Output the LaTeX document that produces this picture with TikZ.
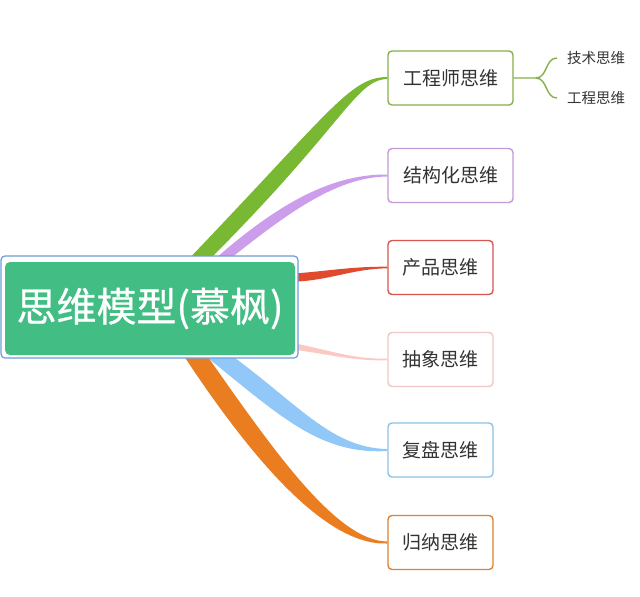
\documentclass[tikz,border=0pt]{standalone}
\usepackage{fontspec}
\setmainfont{Noto Sans CJK SC}
\newfontfamily\rootfont[FakeBold=0.6]{Noto Sans CJK SC}
\usetikzlibrary{calc}
\definecolor{txt}{HTML}{333333}
\definecolor{cgreen}{HTML}{79B833}
\definecolor{bgreen}{HTML}{86B04A}
\definecolor{cpurple}{HTML}{CC9DEB}
\definecolor{bpurple}{HTML}{C29BD9}
\definecolor{cred}{HTML}{E04A2F}
\definecolor{bred}{HTML}{D9534F}
\definecolor{cpink}{HTML}{FBC8C4}
\definecolor{bpink}{HTML}{F2C6C6}
\definecolor{cblue}{HTML}{92C8F8}
\definecolor{bblue}{HTML}{8CC3E6}
\definecolor{corange}{HTML}{E97D1F}
\definecolor{borange}{HTML}{E0822C}
\definecolor{rootgreen}{HTML}{42BE85}
\definecolor{rootframe}{HTML}{6A9BE0}
\tikzset{
  childbox/.style={draw, line width=1.4pt, rounded corners=4pt, fill=white,
    minimum height=54pt, inner sep=0pt, text=txt,
    font=\fontsize{19}{23}\selectfont},
  gchild/.style={anchor=west, inner xsep=10pt, inner ysep=0pt, text=txt,
    font=\fontsize{14.5}{17}\selectfont},
}
\begin{document}
\begin{tikzpicture}[x=1pt,y=-1pt]
\useasboundingbox (0,0) rectangle (640,597);
% child nodes
\node[childbox, draw=bgreen, minimum width=125pt] (c1) at (450.5,78) {工程师思维};
\node[childbox, draw=bpurple, minimum width=125pt] (c2) at (450.5,175.5) {结构化思维};
\node[childbox, draw=bred, minimum width=105pt] (c3) at (440.5,267.5) {产品思维};
\node[childbox, draw=bpink, minimum width=105pt] (c4) at (440.5,359.5) {抽象思维};
\node[childbox, draw=bblue, minimum width=105pt] (c5) at (440.5,450) {复盘思维};
\node[childbox, draw=borange, minimum width=105pt] (c6) at (440.5,542.5) {归纳思维};
% grandchildren
\node[gchild] (g1) at (557,58) {技术思维};
\node[gchild] (g2) at (557,98) {工程思维};
\coordinate (fork) at ($(c1.east)+(22,0)$);
\draw[bgreen, line width=1.4pt] (c1.east) -- (fork)
  .. controls ($(fork)+(12,0)$) and ($(g1.west)+(-12,0)$) .. (g1.west);
\draw[bgreen, line width=1.4pt] (fork)
  .. controls ($(fork)+(12,0)$) and ($(g2.west)+(-12,0)$) .. (g2.west);
\coordinate (rootc) at (150,308.5);
% tapered branches
\fill[cgreen] (182,266) .. controls (330,112) and (350,77) .. ($(c1.west)+(0,-1)$)
  -- ($(c1.west)+(0,1)$) .. controls (355,80) and (345,125) .. (203,266) -- cycle;
\fill[cpurple] (207,266) .. controls (275,205) and (330,174) .. ($(c2.west)+(0,-1)$)
  -- ($(c2.west)+(0,1)$) .. controls (335,177) and (285,215) .. (221,266) -- cycle;
\fill[cred] (288,274) .. controls (330,271) and (350,266.5) .. ($(c3.west)+(0,-0.8)$)
  -- ($(c3.west)+(0,0.8)$) .. controls (350,269) and (330,281) .. (288,282) -- cycle;
\fill[cpink] (288,342) .. controls (330,350) and (350,359) .. ($(c4.west)+(0,-0.8)$)
  -- ($(c4.west)+(0,0.8)$) .. controls (350,361) and (330,354) .. (288,349) -- cycle;
\fill[cblue] (224,350) .. controls (297,402) and (330,448) .. ($(c5.west)+(0,-1)$)
  -- ($(c5.west)+(0,1)$) .. controls (318,455) and (278,414) .. (198,350) -- cycle;
\fill[corange] (203,350) .. controls (270,445) and (335,541) .. ($(c6.west)+(0,-1)$)
  -- ($(c6.west)+(0,1)$) .. controls (325,546) and (250,457) .. (180,350) -- cycle;
% root
\node[draw=rootframe, fill=white, line width=1.2pt, rounded corners=4pt,
  minimum width=297pt, minimum height=102pt, inner sep=0pt] (frame) at (149.5,307) {};
\node[fill=rootgreen, rounded corners=5pt, minimum width=290pt, minimum height=93pt,
  inner sep=0pt, text=white, font=\rootfont\fontsize{40}{48}\selectfont] (root) at (rootc) {思维模型(慕枫)};
\end{tikzpicture}
\end{document}
